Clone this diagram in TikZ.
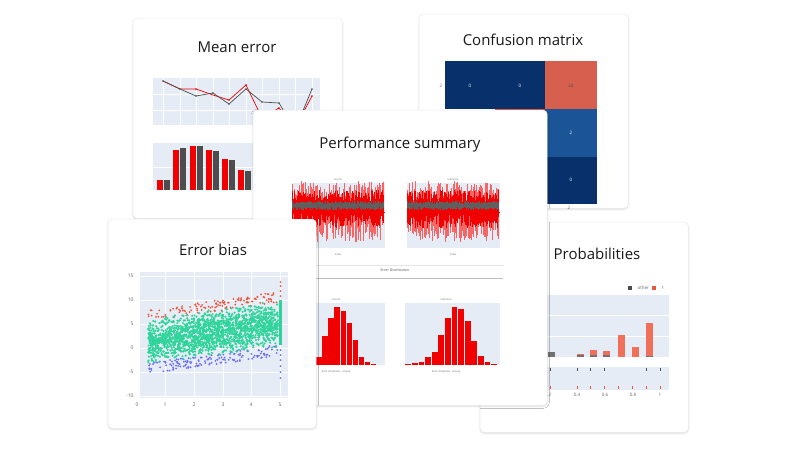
\documentclass[tikz,border=0pt]{standalone}
\usepackage{fontspec}
\setmainfont{Open Sans}
\usetikzlibrary{shadows.blur}
\definecolor{plotbg}{HTML}{E5ECF6}
\definecolor{navy}{HTML}{08306B}
\definecolor{midblue}{HTML}{1B5597}
\definecolor{salmon}{HTML}{D6604D}
\definecolor{gbar}{HTML}{4D4D4D}
\definecolor{pred}{HTML}{F00000}
\definecolor{sgreen}{HTML}{2FD49A}
\definecolor{sblue}{HTML}{6B6BF5}
\definecolor{sred}{HTML}{EF553B}
\tikzset{
 card/.style={fill=white,draw=black!8,rounded corners=4pt,blur shadow={shadow blur steps=8,shadow xshift=0pt,shadow yshift=-1pt,shadow opacity=15}},
 ttl/.style={font=\fontsize{15}{17}\selectfont,text=black!90},
 tiny/.style={font=\fontsize{4.5}{5}\selectfont,text=black!60},
 micro/.style={font=\fontsize{2.5}{3}\selectfont,text=black!60},
 small/.style={font=\fontsize{5}{6}\selectfont,text=black!60},
}
\begin{document}
\begin{tikzpicture}[x=1pt,y=-1pt]
\useasboundingbox (0,0) rectangle (800,450);
\pgfmathsetseed{7}
% ---------- Mean error card
\node[card,minimum width=209pt,minimum height=200pt,anchor=north west] (me) at (133,18) {};
\node[ttl] (metitle) at (237,47) {Mean error};
\fill[plotbg] (153,78) rectangle (320,125);
\foreach \gx in {163,180,196,213,229,246,262,279,295,312}{\draw[white,line width=0.4pt] (\gx,78)--(\gx,125);}
\draw[white,line width=0.4pt] (153,94)--(320,94) (153,110)--(320,110);
\draw[pred,line width=0.7pt] (163,81)--(180,89)--(196,89)--(213,95)--(229,100)--(246,85)--(262,118)--(279,108)--(295,128)--(312,96);
\draw[gbar,line width=0.7pt] (163,81)--(180,89)--(196,96)--(213,93)--(229,104)--(246,89)--(262,102)--(279,103)--(295,130)--(312,89);
\foreach \px/\py in {163/81,180/89,196/96,213/93,229/104,246/89,262/102,279/103,312/89}{\fill[gbar] (\px,\py) circle (0.9pt);}
\foreach \px/\py in {196/89,229/100,246/85,279/108,312/96}{\fill[pred] (\px,\py) circle (0.9pt);}
\fill[plotbg] (153,143) rectangle (320,190);
\draw[white,line width=0.4pt] (153,167)--(320,167);
\foreach \bx/\r/\g in {157/180/180,173/150/148,190/146/146,206/150/151,222/159/160,238/170/171}{
 \fill[pred] (\bx,\r) rectangle ++(6,190-\r);
 \fill[gbar] (\bx+6.5,\g) rectangle ++(6,190-\g);}
% ---------- Confusion matrix card
\node[card,minimum width=209pt,minimum height=194pt,anchor=north west] (cm) at (419,14) {};
\node[ttl] (cmtitle) at (523,40) {Confusion matrix};
\fill[navy] (445,61) rectangle (545,109);
\fill[salmon] (545,61) rectangle (597,109);
\fill[midblue] (545,109) rectangle (597,157);
\fill[navy] (545,157) rectangle (597,204);
\fill[salmon] (495,109) rectangle (545,157);
\node[tiny,text=white] (c1) at (470,86) {0};
\node[tiny,text=white] (c2) at (520,86) {0};
\node[tiny,text=black!70] (c3) at (571,86) {24};
\node[tiny,text=white] (c4) at (571,133) {2};
\node[tiny,text=white] (c5) at (571,180) {0};
\node[tiny] (yl) at (441,86) {2};
\node[tiny] (xl) at (569,208) {2};
% ---------- Probabilities card
\node[card,minimum width=208pt,minimum height=210pt,anchor=north west] (pr) at (480,222) {};
\node[ttl] (prtitle) at (597,254) {Probabilities};
\fill[gbar] (628,286) rectangle ++(4,4);
\node[tiny,anchor=west] (lo) at (634,288) {other};
\fill[sred] (652,286) rectangle ++(4,4);
\node[tiny,anchor=west] (l1) at (658,288) {1};
\fill[plotbg] (540,295) rectangle (669,357);
\draw[white,line width=0.4pt] (540,315)--(669,315) (540,336)--(669,336);
\foreach \bx/\by in {577/354,590/350,603/351,618/335,632/347,646/323}{\fill[sred!85] (\bx,\by) rectangle ++(7,357-\by);}
\foreach \bx/\by in {548/352,577/355,590/355,603/355,646/356}{\fill[gbar!80] (\bx,\by) rectangle ++(7,357-\by);}
\fill[plotbg] (540,367) rectangle (669,390);
\foreach \tx in {550,577,590,604,618,632,646,660}{\draw[sred,line width=0.4pt] (\tx,386)--(\tx,389);}
\foreach \tx in {550,577,590,604,646,660}{\draw[gbar,line width=0.4pt] (\tx,368)--(\tx,371);}
\foreach \tx/\tl in {548/0.2,577/0.4,605/0.6,633/0.8,660/1}{\node[tiny] at (\tx,395) {\tl};}
% ---------- Performance summary card
\node[card,minimum width=294pt,minimum height=295pt,anchor=north west] (ps) at (253,110) {};
\node[ttl] (pstitle) at (400,145) {Performance summary};
\foreach \xo/\lab in {292/current,407/reference}{
 \fill[plotbg] (\xo,183) rectangle (\xo+93,248);
 \node[micro] at (\xo+46,180) {\lab};
 \foreach \i in {0,...,150}{
  \pgfmathsetmacro{\a}{203-rnd*22}\pgfmathsetmacro{\b}{214+rnd*28}
  \draw[pred!60,line width=0.35pt] (\xo+\i*0.61,\a)--(\xo+\i*0.61,\b);}
 \foreach \i in {0,...,150}{
  \pgfmathsetmacro{\a}{202-rnd*12}\pgfmathsetmacro{\b}{214+rnd*14}
  \draw[pred,line width=0.35pt] (\xo+\i*0.61,\a)--(\xo+\i*0.61,\b);}
 \foreach \i in {0,...,150}{
  \pgfmathsetmacro{\a}{204-rnd*3}\pgfmathsetmacro{\b}{207+rnd*3}
  \draw[gbar!90,line width=0.3pt] (\xo+\i*0.61,\a)--(\xo+\i*0.61,\b);}
 \draw[pred,line width=0.6pt] (\xo,212)--(\xo+93,212);
 \node[micro] at (\xo+46,255) {Index};
}
\node[font=\fontsize{3.5}{4}\selectfont,text=black!70] (ed) at (395,270) {Error Distribution};
\draw[black!25,line width=0.5pt] (316,278)--(503,278);
\draw[black!10,line width=0.4pt] (316,265)--(503,265);
\fill[plotbg] (316,303) rectangle (385,365);
\node[micro] (hc) at (336,300) {current};
\foreach \h [count=\k] in {357,336,318,307,311,323,340,357,362,364}{\fill[pred] (316+\k*6.1-6,\h) rectangle ++(5.4,365-\h);}
\node[micro] (hcx) at (336,372) {Error (Predicted - Actual)};
\fill[plotbg] (405,303) rectangle (500,365);
\node[micro] (hr) at (446,300) {reference};
\foreach \h [count=\k] in {364,363,362,357,352,335,318,307,309,321,341,356,362,364}{\fill[pred] (405+\k*6.6-6.2,\h) rectangle ++(5.8,365-\h);}
\node[micro] (hrx) at (446,372) {Error (Predicted - Actual)};
% ---------- Error bias card
\node[card,minimum width=208pt,minimum height=209pt,anchor=north west] (eb) at (108,219) {};
\node[ttl] (ebtitle) at (213,250) {Error bias};
\fill[plotbg] (140,272) rectangle (288,398);
\foreach \v/\yy in {15/276,10/300,5/324,0/348,-5/372,-10/396}{
 \draw[white,line width=0.4pt] (140,\yy)--(288,\yy);
 \node[small,anchor=east] at (137,\yy) {\v};}
\foreach \v/\xx in {0/137,1/165,2/194,3/223,4/251,5/280}{
 \draw[white,line width=0.4pt] (\xx,272)--(\xx,398);
 \node[small] at (\xx,405) {\v};}
\foreach \i in {1,...,130}{
 \pgfmathsetmacro{\px}{148+rnd*130}\pgfmathsetmacro{\py}{342-(\px-148)*0.14-21-rnd*11}
 \fill[sred] (\px,\py) circle (1pt);}
\foreach \i in {1,...,160}{
 \pgfmathsetmacro{\px}{148+rnd*130}\pgfmathsetmacro{\py}{342-(\px-148)*0.14+21+rnd*11}
 \fill[sblue] (\px,\py) circle (1pt);}
\foreach \i in {1,...,1800}{
 \pgfmathsetmacro{\px}{148+rnd*130}\pgfmathsetmacro{\py}{342-(\px-148)*0.14+(rnd+rnd-1)*24}
 \fill[sgreen] (\px,\py) circle (1.2pt);}
\fill[sgreen] (279,300) rectangle (282,345);
\foreach \yy in {282,286,291,296}{\fill[sred] (280.5,\yy) circle (1pt);}
\foreach \yy in {350,355,360,366,372,378}{\fill[sblue] (280.5,\yy) circle (1pt);}
\end{tikzpicture}
\end{document}
